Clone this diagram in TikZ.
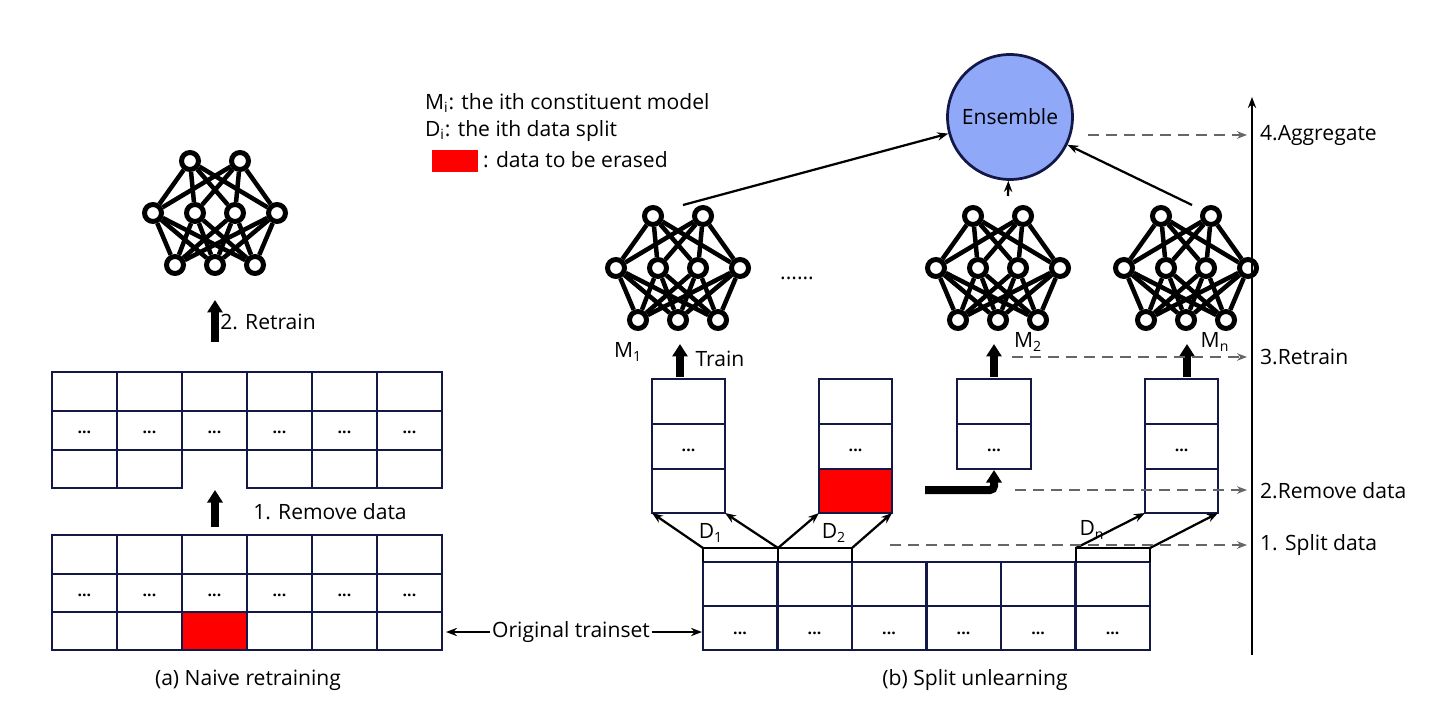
\documentclass[tikz,border=0pt]{standalone}
\usepackage{fontspec}
\setmainfont{Open Sans}
\usepackage{tikz}
\usetikzlibrary{arrows.meta,positioning,calc}
\definecolor{gridnavy}{RGB}{20,24,70}
\definecolor{ensblue}{RGB}{143,168,248}

\tikzset{
    neuron/.style={circle, draw=black, fill=white, line width=0.1cm, minimum size=0.34cm, inner sep=0pt},
    link/.style={line width=0.09cm},
    net/.pic={
        \foreach \n/\a/\b in {t1/-25/-52, t2/25/-52, m1/-62/0, m2/-20/0, m3/20/0, m4/62/0, b1/-40/52, b2/0/52, b3/40/52}
            \node[neuron] (-\n) at (\a,\b) {};
        \foreach \u in {t1,t2}
            \foreach \v in {m1,m2,m3,m4}
                \draw[link] (-\u) -- (-\v);
        \foreach \u in {m1,m2,m3,m4}
            \foreach \v in {b1,b2,b3}
                \draw[link] (-\u) -- (-\v);
    },
    cell/.style={draw=gridnavy, line width=0.055cm},
    erased/.style={cell, fill=red},
    dots/.style={font=\bfseries\small, inner sep=0pt},
    txt/.style={font=\fontsize{12}{14}\selectfont, inner sep=1pt},
    thick arrow/.style={-{Triangle[length=0.25cm,width=0.3cm]}, line width=0.16cm},
    arrow/.style={-{Stealth[length=0.22cm]}, line width=0.045cm},
    dasharrow/.style={-{Stealth[length=0.2cm]}, dashed, dash pattern=on 0.22cm off 0.14cm, line width=0.03cm, gray!80!black}
}

\begin{document}
\begin{tikzpicture}[x=0.02cm, y=-0.02cm]
    \useasboundingbox (0,0) rectangle (1440,716);

    % legend
    \node[txt, anchor=west] (leg1) at (423,103) {M\textsubscript{i}: the ith constituent model};
    \node[txt, anchor=west] (leg2) at (423,131) {D\textsubscript{i}: the ith data split};
    \fill[red] (432,150) rectangle (478,172);
    \node[txt, anchor=west] (leg3) at (481,160) {: data to be erased};

    % (a) naive retraining
    \pic (netA) at (215,213) {net};
    \node[txt] (retrainA) at (268,322) {2. Retrain};
    \coordinate (ra1) at (215,342);
    \coordinate (ra2) at (215,300);
    \draw[thick arrow] (ra1) -- (ra2);

    \foreach \i in {0,...,5} {
        \draw[cell] (52+65*\i,372) rectangle (117+65*\i,411);
        \draw[cell] (52+65*\i,411) rectangle (117+65*\i,450);
        \node[dots] (da\i) at (84.5+65*\i,432) {...};
    }
    \foreach \i in {0,1,3,4,5}
        \draw[cell] (52+65*\i,450) rectangle (117+65*\i,488);

    \node[txt] (removeA) at (330,512) {1. Remove data};
    \coordinate (rb1) at (215,527);
    \coordinate (rb2) at (215,490);
    \draw[thick arrow] (rb1) -- (rb2);

    \foreach \i in {0,...,5} {
        \draw[cell] (52+65*\i,535) rectangle (117+65*\i,574);
        \draw[cell] (52+65*\i,574) rectangle (117+65*\i,612);
        \draw[cell] (52+65*\i,612) rectangle (117+65*\i,650);
        \node[dots] (db\i) at (84.5+65*\i,595) {...};
    }
    \draw[erased] (182,612) rectangle (247,650);
    \node[txt] (capA) at (248,680) {(a) Naive retraining};

    % original trainset
    \node[txt] (orig) at (571,632) {Original trainset};
    \coordinate (origL) at (446,632);
    \coordinate (origR) at (702,632);
    \draw[arrow] (orig) -- (origL);
    \draw[arrow] (orig) -- (origR);

    % (b) split unlearning: trainset
    \foreach \i in {0,...,5} {
        \draw[cell] (703+74.5*\i,562) rectangle (777.5+74.5*\i,606);
        \draw[cell] (703+74.5*\i,606) rectangle (777.5+74.5*\i,650);
        \node[dots] (dc\i) at (740+74.5*\i,633) {...};
    }
    \draw[line width=0.05cm] (703,562) -- (703,548) -- (852,548) -- (852,562);
    \draw[line width=0.05cm] (778,548) -- (778,562);
    \draw[line width=0.05cm] (1076,562) -- (1076,548) -- (1150,548) -- (1150,562);

    % splits
    \foreach \s/\x/\n in {A/652/3, B/819/3, D/1145/3} {
        \draw[cell] (\x,379) rectangle (\x+73,424);
        \draw[cell] (\x,424) rectangle (\x+73,469);
        \draw[cell] (\x,469) rectangle (\x+73,513);
        \node[dots] (ds\s) at (\x+36.5,450) {...};
    }
    \draw[erased] (819,469) rectangle (892,513);
    \draw[cell] (957,379) rectangle (1031,424);
    \draw[cell] (957,424) rectangle (1031,469);
    \node[dots] (dsC) at (994,450) {...};

    \foreach \f/\t in {703/652, 778/725, 778/819, 852/892, 1076/1145, 1150/1218} {
        \coordinate (sf\f\t) at (\f,548);
        \coordinate (st\f\t) at (\t,513);
        \draw[arrow] (sf\f\t) -- (st\f\t);
    }
    \node[txt] (d1) at (711,533) {D\textsubscript{1}};
    \node[txt] (d2) at (834,533) {D\textsubscript{2}};
    \node[txt] (dn) at (1092,530) {D\textsubscript{n}};

    % bent removal arrow
    \coordinate (bend0) at (925,490);
    \coordinate (bend1) at (994,490);
    \coordinate (bend2) at (994,470);
    \draw[thick arrow, rounded corners=0.08cm] (bend0) -- (bend1) -- (bend2);

    % models
    \pic (netM1) at (678,268) {net};
    \pic (netM2) at (998,268) {net};
    \pic (netMn) at (1186,268) {net};
    \node[txt] (dotsM) at (797,278) {......};
    \foreach \m/\x in {1/680, 2/994, n/1187} {
        \coordinate (tr\m a) at (\x,377);
        \coordinate (tr\m b) at (\x,344);
        \draw[thick arrow] (tr\m a) -- (tr\m b);
    }
    \node[txt] (train) at (720,359) {Train};
    \node[txt] (m1) at (628,352) {M\textsubscript{1}};
    \node[txt] (m2) at (1028,342) {M\textsubscript{2}};
    \node[txt] (mn) at (1215,342) {M\textsubscript{n}};

    % ensemble
    \node[circle, draw=gridnavy, fill=ensblue, line width=0.055cm, minimum size=2.5cm, txt] (ens) at (1010,117) {Ensemble};
    \coordinate (e1) at (683,205);
    \coordinate (e2) at (1008,196);
    \coordinate (e3) at (1192,205);
    \draw[arrow] (e1) -- (ens);
    \draw[arrow] (e2) -- (ens);
    \draw[arrow] (e3) -- (ens);

    % stage axis
    \coordinate (ax0) at (1252,655);
    \coordinate (ax1) at (1252,97);
    \draw[arrow] (ax0) -- (ax1);
    \node[txt, anchor=west] (s4) at (1258,135) {4.Aggregate};
    \node[txt, anchor=west] (s3) at (1258,357) {3.Retrain};
    \node[txt, anchor=west] (s2) at (1258,491) {2.Remove data};
    \node[txt, anchor=west] (s1) at (1258,545) {1. Split data};
    \foreach \y/\x in {135/1088, 357/1012, 490/1015, 545/890} {
        \coordinate (da\y) at (\x,\y);
        \coordinate (db\y) at (1247,\y);
        \draw[dasharrow] (da\y) -- (db\y);
    }
    \node[txt] (capB) at (975,680) {(b) Split unlearning};
\end{tikzpicture}
\end{document}
